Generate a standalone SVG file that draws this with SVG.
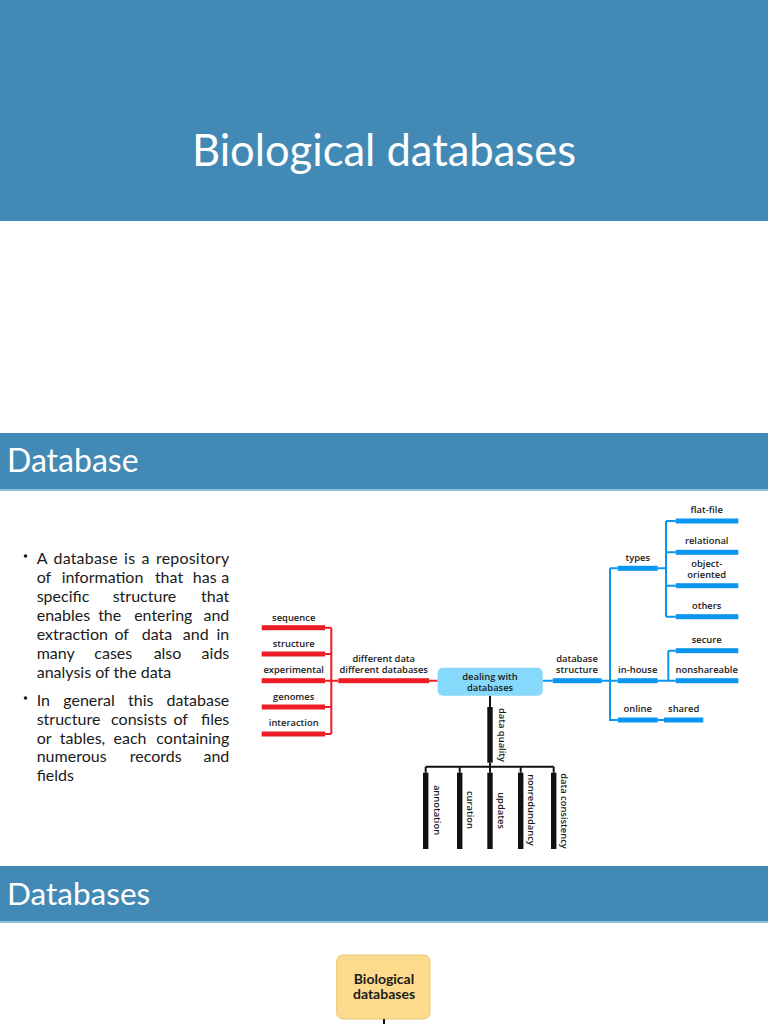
<svg xmlns="http://www.w3.org/2000/svg" width="768" height="1024" viewBox="0 0 768 1024">
<style>
.hdr{fill:#428ab5}
.hl{fill:#8fc0dd}
.ht{font-family:Lato,"Open Sans",sans-serif;fill:#fff}
.bt{font-family:Lato,"Open Sans",sans-serif;font-size:16px;fill:#1a1a1a}
.m{text-anchor:middle}
.e{text-anchor:end}
.lbl{font-family:"Open Sans","DejaVu Sans",sans-serif;font-size:9.4px;font-weight:600;fill:#1a1a1a;text-anchor:middle}
.rb{fill:#ee1c24}
.bb{fill:#0a96ee}
.kb{fill:#111}
.rl{stroke:#ee1c24;stroke-width:2;fill:none}
.bl{stroke:#0a96ee;stroke-width:2;fill:none}
.kl{stroke:#111;stroke-width:2;fill:none}
</style>
<rect width="768" height="1024" fill="#fff"/>
<!-- headers -->
<rect class="hdr" x="0" y="0" width="768" height="221"/>
<text class="ht m" x="384" y="166" font-size="43.5">Biological databases</text>
<rect class="hdr" x="0" y="433" width="768" height="57"/>
<rect class="hl" x="0" y="489" width="768" height="2"/>
<text class="ht" x="7" y="472" font-size="32">Database</text>
<rect class="hdr" x="0" y="866" width="768" height="56"/>
<rect class="hl" x="0" y="921" width="768" height="2"/>
<text class="ht" x="7" y="905" font-size="31.5">Databases</text>

<!-- bullet text -->
<g id="bullets">
<circle cx="25.5" cy="556" r="1.8" fill="#1a1a1a"/>
<circle cx="25.5" cy="698" r="1.8" fill="#1a1a1a"/>
<text class="bt" x="36.7" y="563.5" textLength="192.6" lengthAdjust="spacing" word-spacing="2">A database is a repository</text>
<text class="bt" x="36.7" y="582.5">of</text><text class="bt m" x="102.5" y="582.5">information</text><text class="bt m" x="169" y="582.5">that</text><text class="bt m" x="204.7" y="582.5">has</text><text class="bt e" x="229.3" y="582.5">a</text>
<text class="bt" x="36.7" y="601.5">specific</text><text class="bt m" x="144.5" y="601.5">structure</text><text class="bt e" x="229.3" y="601.5">that</text>
<text class="bt" x="36.7" y="620.5">enables</text><text class="bt m" x="109.7" y="620.5">the</text><text class="bt m" x="163.3" y="620.5">entering</text><text class="bt e" x="229.3" y="620.5">and</text>
<text class="bt" x="36.7" y="639.5">extraction</text><text class="bt m" x="121.7" y="639.5">of</text><text class="bt m" x="157" y="639.5">data</text><text class="bt m" x="195.7" y="639.5">and</text><text class="bt e" x="229.3" y="639.5">in</text>
<text class="bt" x="36.7" y="658.5">many</text><text class="bt m" x="113.3" y="658.5">cases</text><text class="bt m" x="167.5" y="658.5">also</text><text class="bt e" x="229.3" y="658.5">aids</text>
<text class="bt" x="36.7" y="677.5">analysis of the data</text>
<text class="bt" x="36.7" y="705.5">In</text><text class="bt m" x="89" y="705.5">general</text><text class="bt m" x="140.7" y="705.5">this</text><text class="bt e" x="229.3" y="705.5">database</text>
<text class="bt" x="36.7" y="724.5">structure</text><text class="bt m" x="139" y="724.5">consists</text><text class="bt m" x="180.7" y="724.5">of</text><text class="bt e" x="229.3" y="724.5">files</text>
<text class="bt" x="36.7" y="743.5">or</text><text class="bt m" x="82.5" y="743.5">tables,</text><text class="bt m" x="130" y="743.5">each</text><text class="bt e" x="229.3" y="743.5">containing</text>
<text class="bt" x="36.7" y="761.5">numerous</text><text class="bt m" x="155.7" y="761.5">records</text><text class="bt e" x="229.3" y="761.5">and</text>
<text class="bt" x="36.7" y="780.5">fields</text>
</g>

<!-- connectors -->
<g id="connectors">
<path class="rl" d="M325 627.7H331.3M325 654H331.3M325 680.7H338.3M325 707H331.3M325 734H331.3M331.3 627.7V734M429 680.7H437.7"/>
<path class="bl" d="M542.7 680.7H552.7M601.7 680.7H617.7M610 568.3V720H617.7M610 568.3H617.7M657.7 568.3H666M666 521V616.7M666 521H675.7M666 552.3H675.7M666 585.7H675.7M666 616.7H675.7M657.7 680.7H675.7M668.3 650.7V680.7M668.3 650.7H675.7M657.7 720H664"/>
<path class="kl" d="M490 695.7V707M490 762.7V766.7M425.7 766.7H553.7M425.7 766.7V772.7M459.7 766.7V772.7M490 766.7V772.7M520.7 766.7V772.7M553.7 766.7V772.7"/>
</g>

<!-- red nodes -->
<g id="n-sequence"><rect class="rb" x="261.7" y="625.2" width="63.3" height="5"/><text class="lbl" x="293.7" y="620.7">sequence</text></g>
<g id="n-structure"><rect class="rb" x="261.7" y="651.5" width="63.3" height="5"/><text class="lbl" x="293.7" y="646.7">structure</text></g>
<g id="n-experimental"><rect class="rb" x="261.7" y="678.2" width="63.3" height="5"/><text class="lbl" x="293.7" y="673">experimental</text></g>
<g id="n-genomes"><rect class="rb" x="261.7" y="704.5" width="63.3" height="5"/><text class="lbl" x="293.7" y="700">genomes</text></g>
<g id="n-interaction"><rect class="rb" x="261.7" y="731.5" width="63.3" height="5"/><text class="lbl" x="293.7" y="725.7">interaction</text></g>
<g id="n-different"><rect class="rb" x="338.3" y="678.2" width="90.7" height="5"/><text class="lbl" x="383.7" y="662">different data</text><text class="lbl" x="383.7" y="673">different databases</text></g>

<!-- center -->
<g id="n-dealing"><rect x="437.7" y="667.7" width="105" height="28" rx="5" fill="#86d9fa"/><text class="lbl" x="490" y="679.8" font-size="9.8">dealing with</text><text class="lbl" x="490" y="690.8" font-size="9.8">databases</text></g>

<!-- blue nodes -->
<g id="n-dbstructure"><rect class="bb" x="552.7" y="678.2" width="49" height="5"/><text class="lbl" x="577" y="662">database</text><text class="lbl" x="577" y="673">structure</text></g>
<g id="n-types"><rect class="bb" x="617.7" y="565.8" width="40" height="5"/><text class="lbl" x="637.7" y="561.3">types</text></g>
<g id="n-inhouse"><rect class="bb" x="617.7" y="678.2" width="40" height="5"/><text class="lbl" x="637.7" y="673">in-house</text></g>
<g id="n-online"><rect class="bb" x="617.7" y="717.5" width="40" height="5"/><text class="lbl" x="637.7" y="712.3">online</text></g>
<g id="n-shared"><rect class="bb" x="664" y="717.5" width="39.3" height="5"/><text class="lbl" x="683.7" y="712.3">shared</text></g>
<g id="n-flatfile"><rect class="bb" x="675.7" y="518.5" width="62.6" height="5"/><text class="lbl" x="706.7" y="513">flat-file</text></g>
<g id="n-relational"><rect class="bb" x="675.7" y="549.8" width="62.6" height="5"/><text class="lbl" x="706.7" y="544">relational</text></g>
<g id="n-objectoriented"><rect class="bb" x="675.7" y="583.2" width="62.6" height="5"/><text class="lbl" x="706.7" y="566.5">object-</text><text class="lbl" x="706.7" y="577.7">oriented</text></g>
<g id="n-others"><rect class="bb" x="675.7" y="614.2" width="62.6" height="5"/><text class="lbl" x="706.7" y="608.7">others</text></g>
<g id="n-secure"><rect class="bb" x="675.7" y="648.2" width="62.6" height="5"/><text class="lbl" x="706.7" y="643">secure</text></g>
<g id="n-nonshareable"><rect class="bb" x="675.7" y="678.2" width="62.6" height="5"/><text class="lbl" x="706.7" y="673">nonshareable</text></g>

<!-- black nodes -->
<g id="n-dataquality"><rect class="kb" x="487.3" y="707" width="5.4" height="55.7"/><text class="lbl" transform="translate(498.5,735) rotate(90)">data quality</text></g>
<g id="n-annotation"><rect class="kb" x="423" y="772.7" width="5.4" height="76.3"/><text class="lbl" transform="translate(433.5,810) rotate(90)">annotation</text></g>
<g id="n-curation"><rect class="kb" x="457" y="772.7" width="5.4" height="76.3"/><text class="lbl" transform="translate(467,810) rotate(90)">curation</text></g>
<g id="n-updates"><rect class="kb" x="487.3" y="772.7" width="5.4" height="76.3"/><text class="lbl" transform="translate(497.5,810.5) rotate(90)">updates</text></g>
<g id="n-nonredundancy"><rect class="kb" x="518" y="772.7" width="5.4" height="76.3"/><text class="lbl" transform="translate(528,810) rotate(90)">nonredundancy</text></g>
<g id="n-dataconsistency"><rect class="kb" x="551" y="772.7" width="5.4" height="76.3"/><text class="lbl" transform="translate(560.5,811) rotate(90)">data consistency</text></g>

<!-- bottom -->
<g id="n-biodb"><rect x="336.7" y="955" width="93.3" height="64" rx="6" fill="#fddb8c" stroke="#ecc677" stroke-width="1"/><text x="384" y="983.5" text-anchor="middle" font-family="Lato,'Open Sans',sans-serif" font-weight="bold" font-size="14" fill="#1a1a1a">Biological</text><text x="384" y="998.5" text-anchor="middle" font-family="Lato,'Open Sans',sans-serif" font-weight="bold" font-size="14" fill="#1a1a1a">databases</text></g>
<g id="bottom-connector"><line x1="384" y1="1019" x2="384" y2="1024" stroke="#111" stroke-width="2"/></g>
</svg>
